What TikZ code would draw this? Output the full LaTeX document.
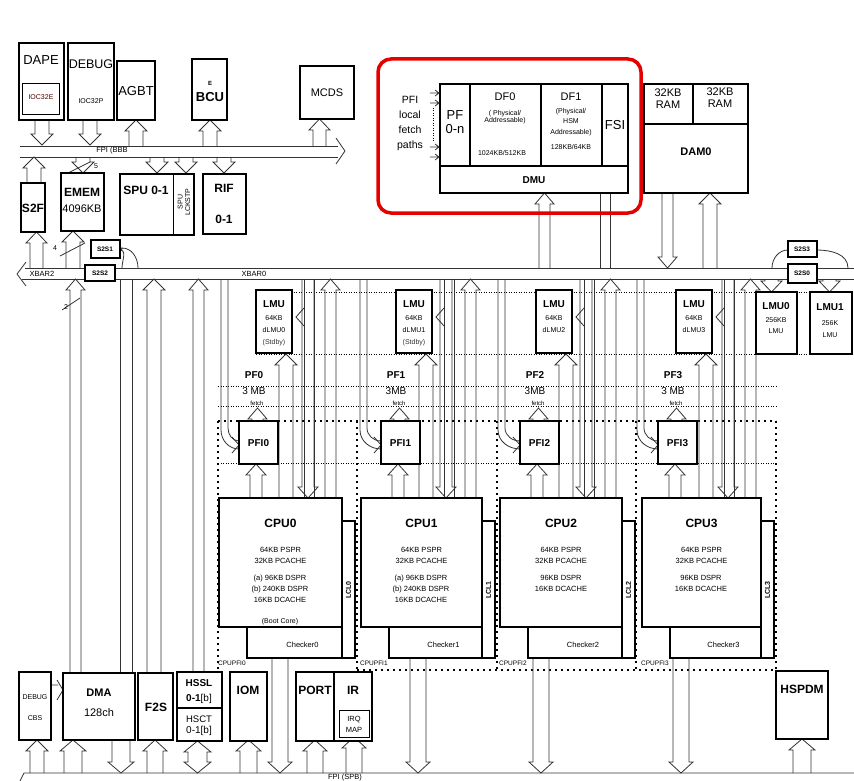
\documentclass[tikz,border=0pt]{standalone}
\usepackage{fontspec}
\setmainfont{Liberation Sans}
\begin{document}
\newcommand\Varr[4]{\pgfmathsetmacro\yh{#4-11*sign(#4-#3)}\pgfmathsetmacro\xm{(#1+#2)/2}\draw[arw] (#1,#3)--(#1,\yh)--(#1-4,\yh)--(\xm,#4)--(#2+4,\yh)--(#2,\yh)--(#2,#3);}
\newcommand\Vdarr[4]{\pgfmathsetmacro\yh{#4-11*sign(#4-#3)}\pgfmathsetmacro\yl{#3+11*sign(#4-#3)}\pgfmathsetmacro\xm{(#1+#2)/2}\draw[arw] (#1,\yl)--(#1,\yh)--(#1-4,\yh)--(\xm,#4)--(#2+4,\yh)--(#2,\yh)--(#2,\yl)--(#2+4,\yl)--(\xm,#3)--(#1-4,\yl)--cycle;}
\newcommand\Vpair[4]{\draw[arw] (#1,#3)--(#1,#4) (#2,#3)--(#2,#4);}
\begin{tikzpicture}[x=1pt,y=-1pt,
  arw/.style={line width=0.8pt,draw=black!80},
  bx/.style={draw,fill=white,line width=2pt},
  bt/.style={draw,fill=white,line width=1pt},
  dotk/.style={line width=2pt,dash pattern=on 2pt off 4pt},
  dott/.style={line width=0.5pt,dash pattern=on 1pt off 1.5pt},
  big/.style={font=\fontsize{12}{13}\selectfont\bfseries,inner sep=0},
  mid/.style={font=\fontsize{10}{11}\selectfont,inner sep=0},
  sm/.style={font=\fontsize{7.5}{8}\selectfont,inner sep=0},
  tn/.style={font=\fontsize{7}{7.5}\selectfont,inner sep=0}]
\useasboundingbox (0,0) rectangle (854,781);
% ---- dotted grid
\draw[dott] (256,292)--(854,292) (256,354)--(854,354) (218,386)--(776,386) (218,406)--(776,406) (218,463)--(776,463);
\draw[dotk] (218,421)--(776,421) (357,670)--(776,670);
\foreach \x in {218,357,497,636,776} \draw[dotk] (\x,421)--(\x,670);
% ---- top FPI bus
\draw[arw] (20,146)--(338,146) (20,157)--(338,157);
\draw[arw] (336,138)--(345,151)--(336,164);
\node[sm] (fpil) at (112,151) {FPI (BBB};
\Varr{35}{49}{120}{145}\Varr{83}{97}{120}{145}
\Varr{129}{143}{146}{120}\Varr{203}{217}{146}{120}\Varr{313}{326}{146}{119}
\Varr{27}{41}{183}{157}\Varr{76}{90}{157}{173}
\Varr{150}{164}{157}{173}\Varr{179}{193}{157}{173}\Varr{217}{231}{157}{173}
\draw[arw] (68,173)--(90,162); \node[tn] (n5) at (96,166) {5};
% ---- XBAR
\draw[arw] (25,268)--(854,268) (22,279)--(854,279);
\draw[arw] (26,262)--(17,274)--(26,286);
\node[sm] (xb2) at (42,274) {XBAR2};
\node[sm] (xb0) at (254,274) {XBAR0};
\Varr{30}{43}{268}{232}\Varr{66}{80}{268}{231}
\draw[arw] (60,256)--(85,243); \node[tn] (n4) at (55,248) {4};
\draw[arw] (122,268) to[out=90,in=0] (120,250);
\draw[arw] (138,268) to[out=90,in=0] (122,248) (118,244)--(122,249)--(118,254);
\draw[arw] (62,310)--(80,298); \node[tn] (n2) at (66,307) {2};
% DMU/DAM connections
\Varr{539}{550}{268}{193}\Vpair{600}{610}{193}{268}
\Varr{662}{673}{193}{268}\Varr{703}{717}{268}{193}
\Varr{765}{778}{279}{292}\Varr{823}{836}{279}{292}
\draw[arw] (772,268) to[out=90,in=180] (788,250) (848,268) to[out=90,in=0] (817,250);
% left verticals to bottom boxes
\Varr{70}{81}{673}{279}\Vpair{120}{132}{279}{673}\Varr{147}{161}{673}{279}\Varr{193}{204}{672}{279}
% ---- per-core verticals
\foreach \L/\P/\C/\D/\V in {256/239/221/302/272, 396/381/360/440/410, 536/520/498/580/533, 676/658/637/722/673}{
  \Varr{\L+23}{\L+37}{498}{354}
  \Vpair{\L+48}{\L+58}{279}{498}
  \draw[arw] (\L+48,308)--(\L+40,317)--(\L+48,326);
  \Varr{\L+69}{\L+80}{498}{279}
  \Varr{\P+11}{\P+23}{498}{464}
  \Varr{\P+13}{\P+24}{421}{408}
  \draw[arw] (\C,279)--(\C,430) to[out=-90,in=180] (\P,449);
  \draw[arw] (\C+7,279)--(\C+7,428) to[out=-90,in=180] (\P,441);
  \draw[arw] (\P-7,437)--(\P,445)--(\P-7,453);
  \Varr{\D}{\D+12}{279}{498}
  \Varr{\V}{\V+16}{627}{773}
}
% ---- bottom bus
\draw[arw] (30,773)--(854,773) (20,781)--(24,773)--(30,773);
\node[sm,anchor=north] (fpib) at (345,774) {FPI (SPB)};
\Varr{30}{44}{773}{740}\Varr{64}{82}{773}{740}\Varr{112}{130}{740}{773}\Varr{147}{163}{773}{740}
\Vdarr{188}{207}{741}{773}\Varr{240}{257}{773}{740}\Varr{307}{323}{773}{740}\Varr{346}{362}{773}{737}
\Varr{793}{811}{773}{739}
\draw[arw] (51,685)--(58,685) (57,680)--(63,690)--(57,700);
% ---- red frame
\draw[red!90!black,line width=3.5pt,rounded corners=13pt] (378,59) rectangle (641,213);
% ---- top boxes
\draw[bx] (19,43) rectangle (64,120); \draw[bt] (22,84) rectangle (59,115);
\node[mid,font=\fontsize{13}{14}\selectfont] (dape) at (41,60) {DAPE};
\node[tn,text=black!70!red] (ioce) at (41,97) {IOC32E};
\draw[bx] (68,43) rectangle (114,120);
\node[mid,font=\fontsize{12.5}{14}\selectfont] (dbg) at (91,64) {DEBUG};
\node[tn] (iocp) at (91,101) {IOC32P};
\draw[bx] (117,61) rectangle (155,120); \node[mid,font=\fontsize{13}{14}\selectfont] (agbt) at (136,91) {AGBT};
\draw[bx] (192,59) rectangle (227,120); \node[tn,font=\fontsize{6}{6}\selectfont\bfseries] (bcue) at (210,83) {E}; \node[big,font=\fontsize{13}{14}\selectfont\bfseries] (bcu) at (210,97) {BCU};
\draw[bx] (300,66) rectangle (354,119); \node[mid,font=\fontsize{11}{12}\selectfont] (mcds) at (327,93) {MCDS};
\draw[bx] (21,183) rectangle (45,232); \node[big] (s2f) at (33,208) {S2F};
\draw[bx] (61,173) rectangle (104,231); \node[big] (emem) at (82,192) {EMEM}; \node[mid,font=\fontsize{11}{12}\selectfont] (emem2) at (82,209) {4096KB};
\draw[bx] (120,174) rectangle (194,235); \draw[line width=1pt] (173,174)--(173,235);
\node[big] (spu) at (146,190) {SPU 0-1}; \node[tn,rotate=90,align=center] (lck) at (184,202) {SPU\\LCKSTP};
\draw[bx] (203,174) rectangle (246,234); \node[big] (rif) at (224,188) {RIF}; \node[big] (rif2) at (224,219) {0-1};
\draw[bx] (91,240) rectangle (120,258); \node[tn,font=\fontsize{6.5}{7}\selectfont\bfseries] (s2s1) at (105,249) {S2S1};
\draw[bx] (85,265) rectangle (115,281); \node[tn,font=\fontsize{6.5}{7}\selectfont\bfseries] (s2s2) at (100,273) {S2S2};
\draw[bx] (788,241) rectangle (817,257); \node[tn,font=\fontsize{6.5}{7}\selectfont\bfseries] (s2s3) at (802,249) {S2S3};
\draw[bx] (788,264) rectangle (817,283); \node[tn,font=\fontsize{6.5}{7}\selectfont\bfseries] (s2s0) at (802,273) {S2S0};
% ---- DMU
\draw[bx] (440,84) rectangle (628,193);
\draw[line width=2pt] (440,166)--(628,166) (470,84)--(470,166) (541,84)--(541,166) (602,84)--(602,166);
\node[mid,align=center,font=\fontsize{10.5}{15}\selectfont] (pfi) at (410,123) {PFI\\local\\fetch\\paths};
\foreach \y in {93,103,147,157} \draw[arw] (430,\y)--(438,\y) (435,\y-3)--(439,\y)--(435,\y+3);
\draw[dott,line width=1pt] (433,108)--(433,142);
\node[font=\fontsize{13}{14}\selectfont,inner sep=0,align=center] (pf) at (455,122) {PF\\0-n};
\node[mid,font=\fontsize{11}{12}\selectfont] (df0) at (505,97) {DF0};
\node[tn,align=center] (df0b) at (505,117) {( Physical/\\Addressable)};
\node[tn] (df0c) at (502,153) {1024KB/512KB};
\node[mid,font=\fontsize{11}{12}\selectfont] (df1) at (571,97) {DF1};
\node[tn,align=center,font=\fontsize{7}{10.5}\selectfont] (df1b) at (571,122) {(Physical/\\HSM\\Addressable)};
\node[tn] (df1c) at (571,147) {128KB/64KB};
\node[font=\fontsize{13}{14}\selectfont,inner sep=0] (fsi) at (615,125) {FSI};
\node[big,font=\fontsize{10}{11}\selectfont\bfseries] (dmu) at (534,180) {DMU};
\draw[bx] (644,84) rectangle (748,193); \draw[line width=2pt] (644,124)--(748,124) (693,84)--(693,124);
\node[mid,align=center,font=\fontsize{11}{12}\selectfont] (ram1) at (668,99) {32KB\\RAM};
\node[mid,align=center,font=\fontsize{11}{12}\selectfont] (ram2) at (720,98) {32KB\\RAM};
\node[big,font=\fontsize{11}{12}\selectfont\bfseries] (dam) at (696,152) {DAM0};
% ---- LMUs / PFIs / CPUs
\foreach \k/\L/\P/\A/\B/\pf in {0/256/239/219/342/3 MB, 1/396/381/361/482/3MB, 2/536/520/500/622/3MB, 3/676/658/642/761/3 MB}{
  \draw[bx] (\L,290) rectangle (\L+36,353);
  \node[big,font=\fontsize{10}{11}\selectfont\bfseries] (lmu\k) at (\L+18,304) {LMU};
  \node[tn] (lmua\k) at (\L+18,318) {64KB};
  \node[tn] (lmub\k) at (\L+18,330) {dLMU\k};
  \node[big,font=\fontsize{10}{11}\selectfont\bfseries] (pfl\k) at (\P+15,375) {PF\k};
  \node[mid] (pfs\k) at (\P+15,391) {\pf};
  \node[tn,font=\fontsize{6}{6}\selectfont] (pff\k) at (\P+18,403) {fetch};
  \draw[bx] (\P,421) rectangle (\P+39,464);
  \node[big,font=\fontsize{10}{11}\selectfont\bfseries] (pfi\k) at (\P+19.5,443) {PFI\k};
  \draw[bx] (\B,521) rectangle (\B+13,658);
  \node[tn,rotate=90,font=\fontsize{7}{7}\selectfont\bfseries] (lcl\k) at (\B+6.5,590) {LCL\k};
  \draw[bx] (\A+28,627) rectangle (\B,658);
  \node[tn,font=\fontsize{7.5}{8}\selectfont] (chk\k) at ({(\A+28+\B)/2+8},645) {Checker\k};
  \draw[bx] (\A,498) rectangle (\B,627);
  \node[big] (cpu\k) at ({(\A+\B)/2},523) {CPU\k};
  \node[tn,align=center,font=\fontsize{7.5}{11}\selectfont] (cpum\k) at ({(\A+\B)/2},555) {64KB  PSPR\\32KB  PCACHE};
  \node[tn,anchor=west,font=\fontsize{6.5}{7}\selectfont] (pfc\k) at (\A-1,663) {CPUPFI\k};
}
\node[tn,text=black!80] (sb0) at (274,343) {(Stdby)};
\node[tn,text=black!80] (sb1) at (414,343) {(Stdby)};
\node[tn,align=center,font=\fontsize{7.5}{11}\selectfont] (cpx0) at (280,589) {(a) 96KB  DSPR\\(b) 240KB DSPR\\16KB DCACHE};
\node[tn,align=center,font=\fontsize{7.5}{11}\selectfont] (cpx1) at (421,589) {(a) 96KB  DSPR\\(b) 240KB DSPR\\16KB DCACHE};
\node[tn,align=center,font=\fontsize{7.5}{11}\selectfont] (cpx2) at (561,583) {96KB  DSPR\\16KB DCACHE};
\node[tn,align=center,font=\fontsize{7.5}{11}\selectfont] (cpx3) at (701,583) {96KB  DSPR\\16KB DCACHE};
\node[tn] (boot) at (280,622) {(Boot Core)};
\draw[bx] (756,292) rectangle (797,354);
\node[big,font=\fontsize{10}{11}\selectfont\bfseries] (lmu0b) at (776,306) {LMU0};
\node[tn,align=center,font=\fontsize{7}{11}\selectfont] (lmu0c) at (776,326) {256KB\\LMU};
\draw[bx] (810,292) rectangle (852,354);
\node[big,font=\fontsize{10}{11}\selectfont\bfseries] (lmu1b) at (830,307) {LMU1};
\node[tn,align=center,font=\fontsize{7}{12}\selectfont] (lmu1c) at (830,329) {256K\\LMU};
% ---- bottom boxes
\draw[bx] (19,672) rectangle (51,740);
\node[tn] (dbgc) at (35,697) {DEBUG}; \node[tn] (cbs) at (35,718) {CBS};
\draw[bx] (63,673) rectangle (135,740);
\node[big,font=\fontsize{11}{12}\selectfont\bfseries] (dma) at (99,693) {DMA}; \node[mid,font=\fontsize{11}{12}\selectfont] (dma2) at (99,713) {128ch};
\draw[bx] (138,673) rectangle (173,740); \node[big] (f2s) at (156,707) {F2S};
\draw[bx] (177,672) rectangle (222,741); \draw[line width=2pt] (177,708)--(222,708);
\node[big,font=\fontsize{10}{11}\selectfont\bfseries] (hssl) at (199,683) {HSSL};
\node[mid,font=\fontsize{10}{11}\selectfont\bfseries] (hssl2) at (199,699) {0-1\textmd{[b]}};
\node[mid,font=\fontsize{9.5}{11}\selectfont] (hsct) at (199,719) {HSCT};
\node[mid] (hsct2) at (199,731) {0-1[b]};
\draw[bx] (230,672) rectangle (267,741); \node[big] (iom) at (248,690) {IOM};
\draw[bx] (296,672) rectangle (372,741); \draw[line width=2pt] (334,672)--(334,741);
\node[big] (port) at (315,690) {PORT}; \node[big] (ir) at (353,690) {IR};
\draw[bt] (339,710) rectangle (369,737);
\node[tn,align=center,font=\fontsize{7.5}{11}\selectfont] (irq) at (354,724) {IRQ\\MAP};
\draw[bx] (776,671) rectangle (828,739); \node[big] (hspdm) at (802,689) {HSPDM};
\end{tikzpicture}
\end{document}
